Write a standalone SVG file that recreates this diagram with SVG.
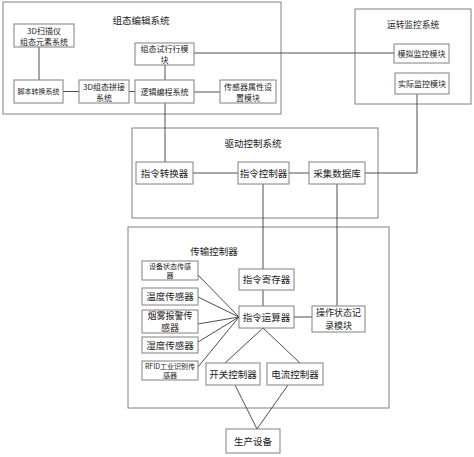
<svg xmlns="http://www.w3.org/2000/svg" width="474" height="457" viewBox="0 0 474 457">
<style>
rect{fill:#fff;stroke:#808080;stroke-width:1}
.c line,.c polyline{stroke:#3a3a3a;stroke-width:0.9;fill:none}
text{font-family:"Noto Sans CJK SC","Noto Sans",sans-serif;fill:#222;text-anchor:middle;font-size:9.5px}
.m{font-size:9px}
.s{font-size:8px}
.xs{font-size:7px}
</style>
<rect width="474" height="457" style="fill:#fff;stroke:none"/>
<g id="zutai-system">
<rect x="3" y="2" width="278" height="112"/>
<text x="141" y="24">组态编辑系统</text>
</g>
<g id="yunzhuan-system">
<rect x="355" y="9" width="116" height="95"/>
<text x="413" y="28" class="s" style="font-size:8.7px">运转监控系统</text>
</g>
<g id="qudong-system">
<rect x="132" y="128" width="246" height="90"/>
<text x="253" y="147">驱动控制系统</text>
</g>
<g id="chuanshu-system">
<rect x="128" y="227" width="261" height="181"/>
<text x="214" y="255">传输控制器</text>
</g>
<g class="c" id="connectors">
<line x1="39" y1="47" x2="39" y2="80"/>
<line x1="63" y1="91.5" x2="79" y2="91.5"/>
<line x1="129" y1="91.5" x2="135" y2="91.5"/>
<line x1="194" y1="92" x2="220" y2="92"/>
<line x1="165" y1="65" x2="165" y2="80"/>
<line x1="194" y1="53" x2="394" y2="53"/>
<line x1="165" y1="103" x2="165" y2="162"/>
<polyline points="417,94 417,173 365,173"/>
<line x1="193" y1="173" x2="238" y2="173"/>
<line x1="289" y1="173" x2="309" y2="173"/>
<line x1="263" y1="184" x2="263" y2="269"/>
<line x1="337" y1="184" x2="337" y2="306"/>
<line x1="263" y1="290" x2="263" y2="306"/>
<line x1="294" y1="317" x2="312" y2="317"/>
<line x1="198" y1="275" x2="239" y2="317"/>
<line x1="198" y1="297" x2="239" y2="317"/>
<line x1="198" y1="324" x2="239" y2="317"/>
<line x1="198" y1="342" x2="239" y2="317"/>
<line x1="198" y1="367" x2="239" y2="317"/>
<line x1="263" y1="328" x2="225" y2="363"/>
<line x1="263" y1="328" x2="300" y2="363"/>
<line x1="235" y1="385" x2="257" y2="429"/>
<line x1="288" y1="385" x2="257" y2="429"/>
</g>
<g id="scan3d"><rect x="14" y="24" width="60" height="23"/><text class="s" x="44" y="34">3D扫描仪</text><text class="s" x="44" y="45">组态元素系统</text></g>
<g id="jiaoben"><rect x="14" y="80" width="49" height="23"/><text class="xs" x="38.5" y="94">脚本转换系统</text></g>
<g id="pinjie"><rect x="79" y="80" width="50" height="23"/><text class="s" x="104" y="89.5">3D组态拼接</text><text class="s" x="104" y="100.5">系统</text></g>
<g id="luoji"><rect x="135" y="80" width="59" height="23"/><text class="s" x="164.5" y="94.5">逻辑编程系统</text></g>
<g id="shixing"><rect x="135" y="43" width="59" height="22"/><text class="s" x="164.5" y="52">组态试行行模</text><text class="s" x="164.5" y="63">块</text></g>
<g id="shuxing"><rect x="220" y="80" width="56" height="23"/><text class="s" x="248" y="89.5">传感器属性设</text><text class="s" x="248" y="100.5">置模块</text></g>
<g id="moni"><rect x="394" y="44" width="55" height="19"/><text class="s" x="421.5" y="56.5">模拟监控模块</text></g>
<g id="shiji"><rect x="395" y="73" width="54" height="21"/><text class="s" x="422" y="86.5">实际监控模块</text></g>
<g id="zhuanhuan"><rect x="136" y="162" width="57" height="22"/><text x="164.5" y="176.5">指令转换器</text></g>
<g id="kongzhi"><rect x="238" y="162" width="51" height="22"/><text x="263.5" y="176.5">指令控制器</text></g>
<g id="caiji"><rect x="309" y="162" width="56" height="22"/><text x="337" y="176.5">采集数据库</text></g>
<g id="jicun"><rect x="239" y="269" width="55" height="21"/><text x="266.5" y="283">指令寄存器</text></g>
<g id="yunsuan"><rect x="239" y="306" width="55" height="22"/><text x="266.5" y="320.5">指令运算器</text></g>
<g id="caozuo"><rect x="312" y="306" width="53" height="26"/><text class="m" x="338.5" y="316">操作状态记</text><text class="m" x="338.5" y="328.5">录模块</text></g>
<g id="shebei"><rect x="142" y="261" width="56" height="19"/><text class="xs" x="170" y="268.5">设备状态传感</text><text class="xs" x="170" y="277.5">器</text></g>
<g id="wendu"><rect x="142" y="288" width="56" height="17"/><text x="170" y="300">温度传感器</text></g>
<g id="yanwu"><rect x="142" y="310" width="56" height="23"/><text class="m" x="170" y="318.5">烟雾报警传</text><text class="m" x="170" y="330.5">感器</text></g>
<g id="shidu"><rect x="142" y="337" width="56" height="16"/><text x="170" y="348.5">湿度传感器</text></g>
<g id="rfid"><rect x="142" y="361" width="56" height="19"/><text class="xs" x="170" y="368.5">RFID工业识别传</text><text class="xs" x="170" y="377.5">感器</text></g>
<g id="kaiguan"><rect x="206" y="363" width="54" height="22"/><text x="233" y="377.5">开关控制器</text></g>
<g id="dianliu"><rect x="267" y="363" width="56" height="22"/><text x="295" y="377.5">电流控制器</text></g>
<g id="shengchan"><rect x="226" y="429" width="54" height="24"/><text x="253" y="444.5">生产设备</text></g>
</svg>
